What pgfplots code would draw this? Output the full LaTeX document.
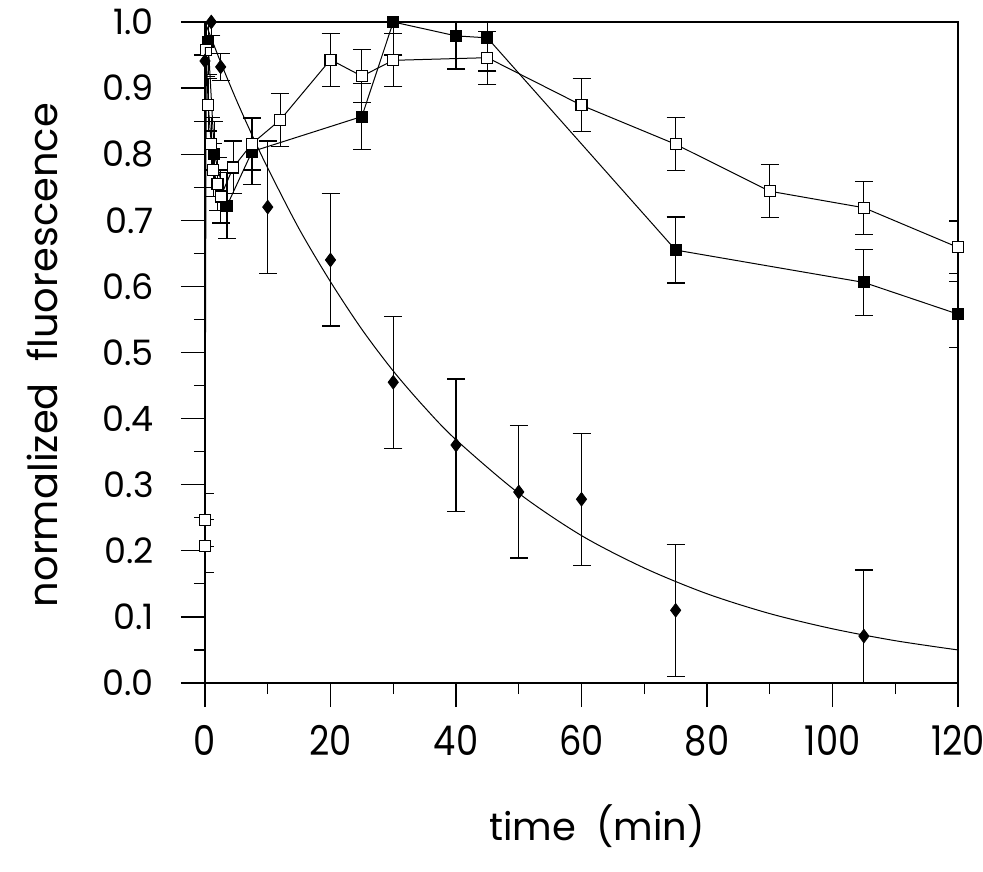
\documentclass[border=0pt]{standalone}
\usepackage{fontspec}
\setmainfont{Poppins}
\newfontfamily\tickfont[FakeStretch=0.86]{Poppins}
\usepackage{pgfplots}
\pgfplotsset{compat=1.18}
\usepackage{pgfplotstable}

% open squares: t, mean, error
\pgfplotstableread{
t     y      e
0     0.207  0.04
0     0.247  0.04
0.2   0.958  0.04
0.5   0.875  0.04
1     0.816  0.04
1.3   0.776  0.04
2     0.755  0.04
2.5   0.736  0.04
4.5   0.780  0.04
7.5   0.816  0.04
12    0.852  0.04
20    0.943  0.04
25    0.918  0.04
30    0.942  0.04
45    0.946  0.04
60    0.874  0.04
75    0.815  0.04
90    0.744  0.04
105   0.719  0.04
120   0.659  0.04
}\opensq

% filled squares
\pgfplotstableread{
t     y      e
0.5   0.970  0.05
1.5   0.800  0.05
3.5   0.722  0.05
7.5   0.804  0.05
25    0.857  0.05
30    1.000  0.05
40    0.979  0.05
45    0.976  0.05
75    0.655  0.05
105   0.606  0.05
120   0.558  0.05
}\fillsq

% filled diamonds
\pgfplotstableread{
t     y      e
0     0.941  0.02
1     1.000  0.02
2.5   0.932  0.02
10    0.720  0.10
20    0.640  0.10
30    0.455  0.10
40    0.360  0.10
50    0.289  0.10
60    0.278  0.10
75    0.110  0.10
105   0.071  0.10
}\diam

% decay curve through the diamond data
\pgfplotstableread{
t     y
0     1.000
2.5   0.939
5     0.882
7.5   0.829
10    0.779
15    0.687
20    0.607
25    0.535
30    0.472
35    0.417
40    0.368
50    0.287
60    0.223
70    0.174
80    0.135
90    0.105
100   0.082
110   0.064
120   0.050
}\fitcurve

\begin{document}
\begin{tikzpicture}
\begin{axis}[
  scale only axis,
  width=376.5pt, height=330.5pt,
  xmin=0, xmax=120, ymin=0, ymax=1,
  axis line style={line width=0.8pt},
  tick align=outside, tick pos=left,
  major tick length=12pt, minor tick length=5.5pt,
  every tick/.style={black, line width=0.6pt},
  xtick={0,20,40,60,80,100,120},
  minor xtick={10,30,50,70,90,110},
  ytick={0,0.1,0.2,0.3,0.4,0.5,0.6,0.7,0.8,0.9,1.0},
  minor ytick={0.05,0.15,0.25,0.35,0.45,0.55,0.65,0.75,0.85,0.95},
  /pgf/number format/assume math mode=true,
  yticklabel style={/pgf/number format/.cd, fixed, fixed zerofill, precision=1, /tikz/.cd,
    font=\fontsize{17.5}{20}\selectfont, xshift=-10pt},
  xticklabel style={font=\tickfont\fontsize{20.5}{24}\selectfont, yshift=-5.5pt},
  xlabel={time\ \ (min)},
  ylabel={normalized\ \ fluorescence},
  xlabel style={font=\fontsize{19.2}{22}\selectfont, at={(rel axis cs:0.5206,-0.2163)}, anchor=center},
  ylabel style={font=\fontsize{20}{24}\selectfont, at={(rel axis cs:-0.2165,0.496)}, anchor=center},
  clip mode=individual,
  error bars/y dir=both, error bars/y explicit,
  error bars/error bar style={line width=0.6pt, black},
  error bars/error mark options={rotate=90, mark size=4.5pt, line width=0.6pt, black},
]
% fitted decay
\addplot[black, line width=0.5pt, smooth, no markers, forget plot] table[x=t, y=y] {\fitcurve};
% filled squares
\addplot[black, line width=0.5pt, mark=square*, mark size=2.75pt, mark options={fill=black}]
  table[x=t, y=y, y error=e] {\fillsq};
% open squares
\addplot[black, line width=0.5pt, mark=square*, mark size=2.75pt, mark options={fill=white, line width=0.6pt}]
  table[x=t, y=y, y error=e] {\opensq};
% diamonds
\addplot[black, only marks, mark=diamond*, mark size=3.4pt, mark options={fill=black}]
  table[x=t, y=y, y error=e] {\diam};
\coordinate (sw) at (rel axis cs:0,0);
\coordinate (ne) at (rel axis cs:1,1);
\end{axis}
\pgfresetboundingbox
\path[use as bounding box] ([xshift=-102.5pt, yshift=-94pt]sw) rectangle ([xshift=12.5pt, yshift=11pt]ne);
\end{tikzpicture}
\end{document}
